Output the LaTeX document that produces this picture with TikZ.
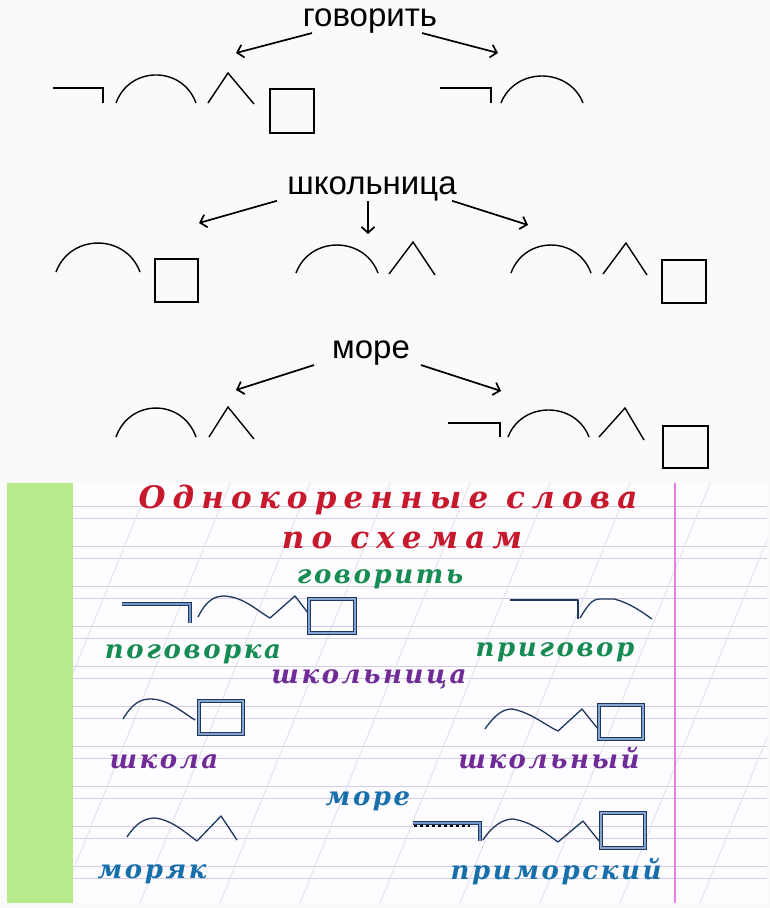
\documentclass[tikz,border=0pt]{standalone}
\usepackage{fontspec}
\setmainfont{Liberation Sans}
\newfontfamily\titlefont[LetterSpace=23]{DejaVu Serif}
\newfontfamily\notefont[LetterSpace=10]{DejaVu Serif}
\usepackage{xcolor}
\usepackage{tikz}
\usetikzlibrary{arrows.meta}

\definecolor{sheet}{RGB}{250,250,250}
\definecolor{paper}{RGB}{253,252,255}
\definecolor{margingreen}{RGB}{184,234,140}
\definecolor{ruleline}{RGB}{212,204,230}
\definecolor{slantline}{RGB}{226,221,236}
\definecolor{marginpink}{RGB}{226,128,232}
\definecolor{titlered}{RGB}{200,24,44}
\definecolor{wordgreen}{RGB}{22,140,82}
\definecolor{wordviolet}{RGB}{112,44,150}
\definecolor{wordblue}{RGB}{24,112,170}
\definecolor{ink}{RGB}{30,55,95}
\definecolor{prefblue}{RGB}{70,115,180}

\begin{document}
\begin{tikzpicture}[
    x=1pt, y=-1pt,
    word/.style={font=\fontsize{33}{36}\selectfont, inner sep=0pt, anchor=base},
    arr/.style={line width=1.7pt, -{Straight Barb[length=6pt, width=13pt]}},
    morph/.style={line width=1.4pt},
    titletext/.style={font=\titlefont\bfseries\itshape\fontsize{31}{33}\selectfont,
        text=titlered, inner sep=0pt, anchor=base},
    note/.style={font=\notefont\bfseries\itshape\fontsize{26}{28}\selectfont,
        inner sep=0pt, anchor=base},
    hand/.style={draw=ink, line width=1.3pt, line join=round},
    prefline/.style={draw=ink, double=prefblue!75!white, line width=1.1pt,
        double distance=2.4pt},
    ending/.style={draw=ink, double=prefblue!65!white, line width=1.3pt,
        double distance=1.2pt},
]

\useasboundingbox (0,0) rectangle (770,908);
\fill[sheet] (0,0) rectangle (770,908);

% upper part: words and their schemes
\node[word] (w1) at (370,26) {говорить};
\node[word] (w2) at (372,194) {школьница};
\node[word] (w3) at (371,358) {море};

\coordinate (g1) at (236,53);
\coordinate (g2) at (498,53);
\coordinate (s1) at (199,223);
\coordinate (s2) at (368,234);
\coordinate (s3) at (528,225);
\coordinate (m1) at (236,390);
\coordinate (m2) at (501,391);

\draw[arr] ([xshift=-58]w1.south) -- (g1);
\draw[arr] ([xshift=52]w1.south) -- (g2);
\draw[arr] ([xshift=-95]w2.south) -- (s1);
\draw[arr] ([xshift=-4]w2.south) -- (s2);
\draw[arr] ([xshift=80]w2.south) -- (s3);
\draw[arr] ([xshift=-57]w3.south) -- (m1);
\draw[arr] ([xshift=50]w3.south) -- (m2);

% govorit
\draw[morph] (53,88) -- (103,88) -- (103,103);
\draw[morph] (116,103) .. controls (129.6,65.6) and (182.4,65.6) .. (196,103);
\draw[morph] (208,103) -- (228,73) -- (254,104);
\draw[morph] (270,89) rectangle (314,133);
\draw[morph] (440,88) -- (491,88) -- (491,103);
\draw[morph] (501,103) .. controls (515,67) and (569,67) .. (583,103);

% shkolnica
\draw[morph] (56,272) .. controls (70.3,233.4) and (125.7,233.4) .. (140,272);
\draw[morph] (155,259) rectangle (198,302);
\draw[morph] (296,273) .. controls (310,235.7) and (364,235.7) .. (378,273);
\draw[morph] (389,274) -- (413,242) -- (435,275);
\draw[morph] (511,273) .. controls (524.6,235.7) and (577.4,235.7) .. (591,273);
\draw[morph] (603,274) -- (626,243) -- (647,275);
\draw[morph] (662,260) rectangle (706,303);

% more
\draw[morph] (116,437) .. controls (129.6,398.4) and (182.4,398.4) .. (196,437);
\draw[morph] (209,437) -- (228,407) -- (254,439);
\draw[morph] (448,423) -- (500,423) -- (500,437);
\draw[morph] (508,437) .. controls (521.8,401) and (575.2,401) .. (589,437);
\draw[morph] (599,437) -- (625,408) -- (644,440);
\draw[morph] (663,426) rectangle (708,468);

% notebook page
\fill[paper] (7,483) rectangle (767,903);
\begin{scope}
  \clip (73,483) rectangle (767,903);
  \foreach \y in {506,546,...,900}
    \draw[ruleline, line width=0.8pt] (73,\y) -- (767,\y) (73,\y+12) -- (767,\y+12);
  \foreach \x in {-100,-20,...,760}
    \draw[slantline, line width=0.8pt] (\x,903) -- (\x+170,483);
\end{scope}
\fill[margingreen] (7,483) rectangle (73,903);
\draw[marginpink, line width=1.4pt] (675,483) -- (675,903);

\node[titletext] (t1) at (388,508) {Однокоренные слова};
\node[titletext] (t2) at (402,548) {по схемам};

\node[note, text=wordgreen] (n1) at (380,583) {говорить};
\node[note, text=wordgreen] (n2) at (193,658) {поговорка};
\node[note, text=wordgreen] (n3) at (555,656) {приговор};
\node[note, text=wordviolet] (n4) at (369,683) {школьница};
\node[note, text=wordviolet] (n5) at (164,768) {школа};
\node[note, text=wordviolet] (n6) at (549,768) {школьный};
\node[note, text=wordblue] (n7) at (368,805) {море};
\node[note, text=wordblue] (n8) at (152,878) {моряк};
\node[note, text=wordblue] (n9) at (556,879) {приморский};

% pogovorka
\draw[prefline] (122,604) -- (190,604) -- (190,623);
\draw[hand] (198,617) .. controls (206,601) and (214,596) .. (224,596)
    .. controls (244,597) and (256,610) .. (270,618) -- (295,596) -- (308,613);
\draw[ending] (309,599) rectangle (355,633);

% prigovor
\draw[hand, line width=2pt] (510,600) -- (578,600) -- (578,619);
\draw[hand] (580,618) .. controls (588,605) and (592,599) .. (600,599) -- (614,599)
    .. controls (630,603) and (642,612) .. (652,619);

% shkola
\draw[hand] (123,719) .. controls (132,704) and (140,699) .. (150,699)
    .. controls (168,699) and (182,712) .. (195,720);
\draw[ending] (199,701) rectangle (243,734);

% shkolnyj
\draw[hand] (485,729) .. controls (494,716) and (502,709) .. (512,709)
    .. controls (530,712) and (545,725) .. (558,731) -- (582,709) -- (598,729);
\draw[ending] (599,705) rectangle (643,739);

% moryak
\draw[hand] (127,837) .. controls (136,823) and (145,818) .. (155,818)
    .. controls (172,820) and (186,833) .. (197,841) -- (221,816) -- (237,840);

% primorskij
\draw[prefline] (413,823) -- (480,823) -- (480,841);
\draw[black, dashed, line width=1.5pt] (414,826) -- (470,826);
\draw[hand] (483,840) .. controls (492,826) and (503,819) .. (513,819)
    .. controls (532,822) and (547,834) .. (558,842) -- (583,821) -- (599,841);
\draw[ending] (601,813) rectangle (645,848);

\end{tikzpicture}
\end{document}
